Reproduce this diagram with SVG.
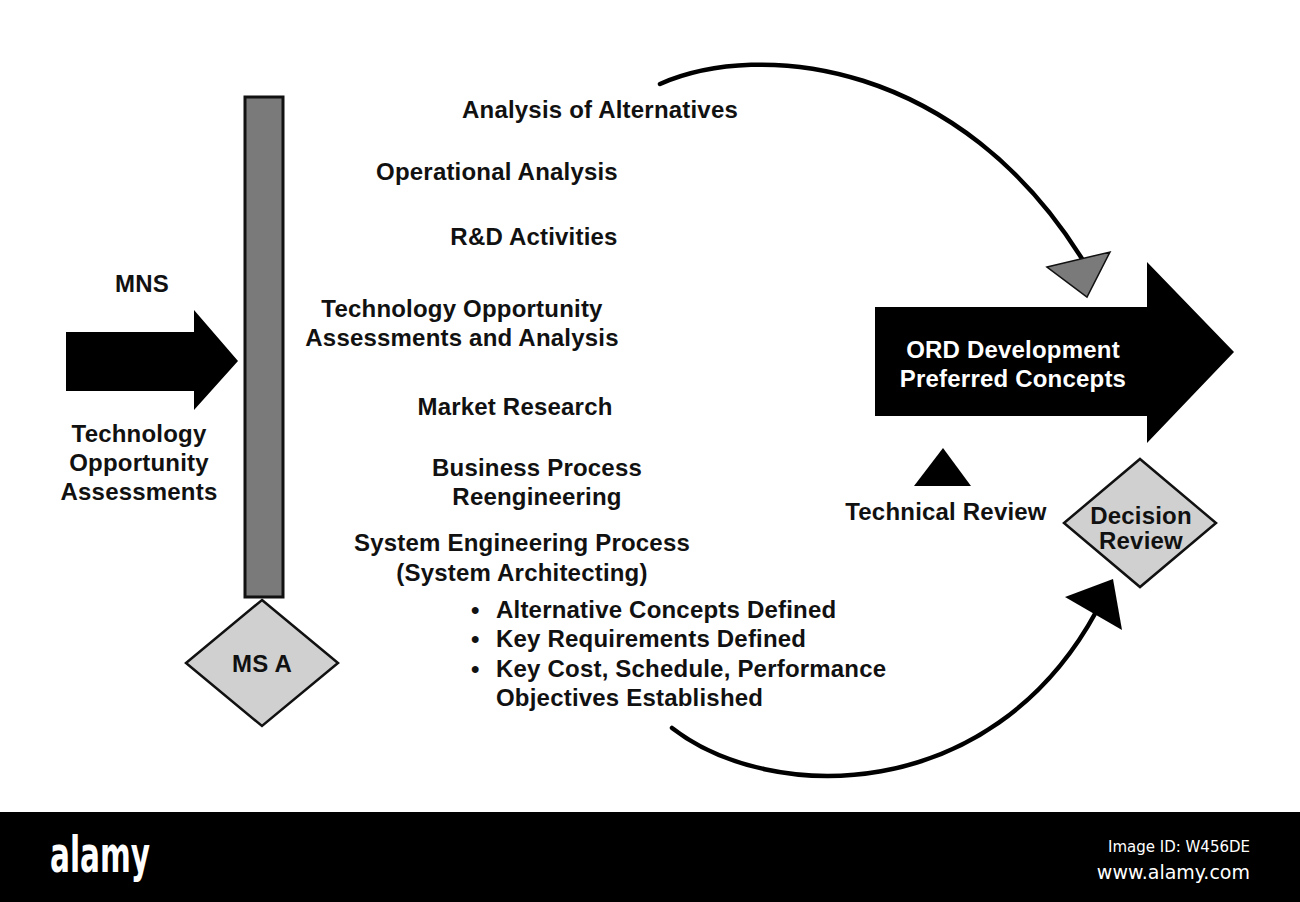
<svg xmlns="http://www.w3.org/2000/svg" width="1300" height="902" viewBox="0 0 1300 902">
<style>
.t{font-family:"Liberation Sans",Arial,sans-serif;font-weight:bold;font-size:24px;letter-spacing:0.2px;fill:#111}
.c{text-anchor:middle}
.w{fill:#fff}
.dia{fill:#d0d0d0;stroke:#111;stroke-width:2.5}
.arc{fill:none;stroke:#000;stroke-width:4.5;stroke-linecap:round}
.wm{font-family:"DejaVu Sans",sans-serif;fill:#fff}
</style>
<rect width="1300" height="902" fill="#fff"/>
<g id="connectors">
<path class="arc" d="M 660 84 C 760 40, 960 60, 1084 262"/>
<polygon points="1047,267 1110,252 1087,297" fill="#7a7a7a" stroke="#111" stroke-width="1.5"/>
<path class="arc" d="M 672 728 C 770 804, 990 806, 1096 612"/>
<polygon points="1065,597 1113,579 1122,630" fill="#000"/>
</g>
<g id="mns-arrow">
<polygon points="66,332 194,332 194,310 238,361 194,410 194,391 66,391" fill="#000"/>
<text class="t c" x="142" y="292">MNS</text>
<text class="t c" x="139" y="442">Technology</text>
<text class="t c" x="139" y="471">Opportunity</text>
<text class="t c" x="139" y="500">Assessments</text>
</g>
<g id="bar">
<rect x="245" y="97" width="38" height="500" fill="#7a7a7a" stroke="#111" stroke-width="3"/>
</g>
<g id="ms-a">
<polygon class="dia" points="262,600 338,663 262,726 186,663"/>
<text class="t c" x="262" y="672">MS A</text>
</g>
<g id="activities">
<text class="t c" x="600" y="118">Analysis of Alternatives</text>
<text class="t c" x="497" y="180">Operational Analysis</text>
<text class="t c" x="534" y="245">R&amp;D Activities</text>
<text class="t c" x="462" y="317">Technology Opportunity</text>
<text class="t c" x="462" y="346">Assessments and Analysis</text>
<text class="t c" x="515" y="415">Market Research</text>
<text class="t c" x="537" y="476">Business Process</text>
<text class="t c" x="537" y="505">Reengineering</text>
<text class="t c" x="522" y="551">System Engineering Process</text>
<text class="t c" x="522" y="581">(System Architecting)</text>
<text class="t" x="471" y="618">•</text>
<text class="t" x="496" y="618">Alternative Concepts Defined</text>
<text class="t" x="471" y="647">•</text>
<text class="t" x="496" y="647">Key Requirements Defined</text>
<text class="t" x="471" y="677">•</text>
<text class="t" x="496" y="677">Key Cost, Schedule, Performance</text>
<text class="t" x="496" y="706">Objectives Established</text>
</g>
<g id="ord-arrow">
<polygon points="875,307 1147,307 1147,262 1234,352 1147,443 1147,416 875,416" fill="#000"/>
<text class="t c w" x="1013" y="358">ORD Development</text>
<text class="t c w" x="1013" y="387">Preferred Concepts</text>
</g>
<g id="technical-review">
<polygon points="943,448 971,486 914,486" fill="#000"/>
<text class="t c" x="946" y="520">Technical Review</text>
</g>
<g id="decision-review">
<polygon class="dia" points="1140,459 1216,523 1140,587 1064,523"/>
<text class="t c" x="1141" y="524">Decision</text>
<text class="t c" x="1141" y="549">Review</text>
</g>
<g id="footer">
<rect x="0" y="812" width="1300" height="90" fill="#000"/>
<text class="wm" x="50" y="872" font-size="50" font-weight="bold" textLength="100" lengthAdjust="spacingAndGlyphs">alamy</text>
<text class="wm" x="1250" y="852" font-size="15" text-anchor="end">Image ID: W456DE</text>
<text class="wm" x="1250" y="879" font-size="19" text-anchor="end">www.alamy.com</text>
</g>
</svg>
